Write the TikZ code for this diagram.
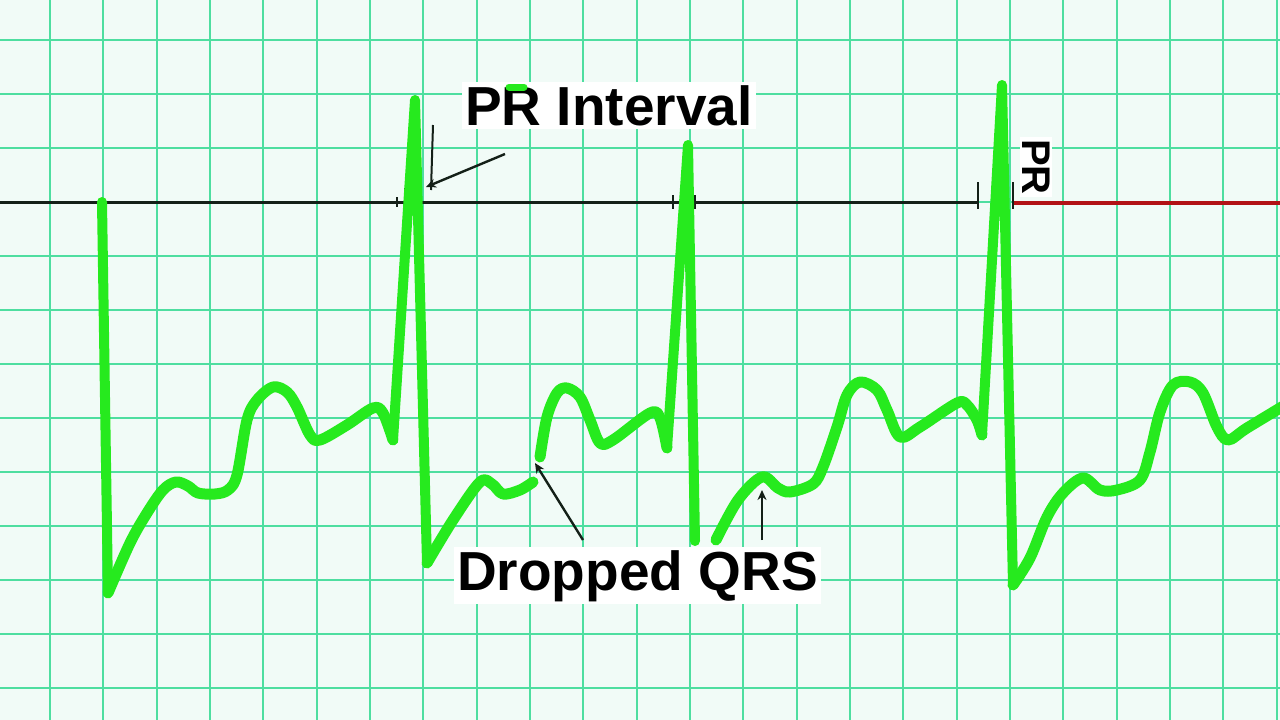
\documentclass[tikz,border=0pt]{standalone}
\usepackage{fontspec}
\setmainfont{Liberation Sans}
\usetikzlibrary{arrows.meta}
\definecolor{bgc}{RGB}{241,251,247}
\definecolor{gridc}{RGB}{78,222,160}
\definecolor{ecg}{RGB}{38,234,30}
\definecolor{inkc}{RGB}{20,32,24}
\definecolor{redc}{RGB}{178,18,22}
\tikzset{
  gridline/.style={draw=gridc, line width=1.9pt},
  trace/.style={draw=ecg, line width=11pt, line cap=round, line join=round},
  spike/.style={draw=ecg, line width=10pt, line cap=round, line join=round},
  baseline/.style={draw=inkc, line width=3pt},
  tickmark/.style={draw=inkc, line width=2.8pt},
  pointer/.style={draw=inkc, line width=2.4pt, -{Stealth[length=10pt,width=9pt]}},
  lbl/.style={font=\bfseries\fontsize{55}{60}\selectfont, text=black, fill=white, inner sep=3pt},
  smalllbl/.style={font=\bfseries\fontsize{40}{44}\selectfont, text=black, fill=white, inner sep=2pt}
}
\begin{document}
\begin{tikzpicture}[x=1pt,y=-1pt]
\useasboundingbox (0,0) rectangle (1280,720);
\fill[bgc] (0,0) rectangle (1280,720);
% grid
\foreach \k in {-1,...,23} \draw[gridline] ({50+53.333*\k},0) -- ({50+53.333*\k},720);
\foreach \k in {0,...,12} \draw[gridline] (0,{40+54*\k}) -- (1280,{40+54*\k});
% baseline
\coordinate (bl0) at (0,202);
\coordinate (bl1) at (978,202);
\coordinate (rl0) at (1013,203);
\coordinate (rl1) at (1280,203);
\draw[baseline] (bl0) -- (bl1);
\draw[redc, line width=4.5pt] (rl0) -- (rl1);
\coordinate (t1a) at (397,197); \coordinate (t1b) at (397,207);
\coordinate (t2a) at (405,188); \coordinate (t2b) at (405,204);
\coordinate (t3a) at (673,195); \coordinate (t3b) at (673,209);
\coordinate (t4a) at (695,195); \coordinate (t4b) at (695,209);
\coordinate (t5a) at (978,182); \coordinate (t5b) at (978,209);
\coordinate (t6a) at (1013,182); \coordinate (t6b) at (1013,209);
\foreach \t in {1,...,6} \draw[tickmark] (t\t a) -- (t\t b);
% ECG trace
\draw[spike] (102,202) -- (108,593);
\draw[trace] plot[smooth, tension=0.55] coordinates {(108,593) (130,543) (147,513) (163,490) (176,482) (188,486) (198,493) (215,494) (228,490) (237,475) (247,420) (257,400) (273,387) (287,392) (297,407) (310,435) (320,440) (347,425) (373,408) (383,413) (393,440)};
\draw[spike] (393,440) -- (415,100) -- (427,563);
\draw[trace] plot[smooth, tension=0.55] coordinates {(427,563) (453,520) (480,482) (492,484) (503,494) (520,490) (533,482)};
\draw[trace] plot[smooth, tension=0.55] coordinates {(540,457) (547,417) (557,393) (567,388) (580,397) (590,420) (600,443) (613,440) (650,413) (660,418) (667,448)};
\draw[spike] (667,448) -- (688,145) -- (695,541);
\draw[trace] plot[smooth, tension=0.55] coordinates {(716,540) (738,500) (762,477) (778,488) (790,492) (813,484) (823,467) (837,427) (847,395) (860,382) (877,390) (887,410) (900,437) (920,427) (957,403) (967,405) (977,420) (982,435)};
\draw[spike] (982,435) -- (1002,85) -- (1013,585);
\draw[trace] plot[smooth, tension=0.55] coordinates {(1013,585) (1030,558) (1047,517) (1063,493) (1083,478) (1100,490) (1117,490) (1140,480) (1150,452) (1160,412) (1173,385) (1190,382) (1203,393) (1217,427) (1228,440) (1247,428) (1290,402)};
% labels
\node[lbl, anchor=base west] (pr) at (462,125) {PR Interval};
\draw[ecg, line width=7pt, line cap=round] (509,87) -- (524,87);
\node[lbl, anchor=base west] (dq) at (454,590) {Dropped QRS};
\node[smalllbl, rotate=-90, anchor=base west] (pr2) at (1022,137) {PR};
% pointers
\coordinate (a1s) at (505,154);
\coordinate (a1e) at (426,187);
\draw[pointer] (a1s) -- (a1e);
\coordinate (v1s) at (433,125);
\coordinate (v1e) at (431,190);
\draw[inkc, line width=2pt] (v1s) -- (v1e);
\coordinate (a2s) at (583,540);
\coordinate (a2e) at (535,463);
\draw[pointer] (a2s) -- (a2e);
\coordinate (a3s) at (762,540);
\coordinate (a3e) at (762,490);
\draw[pointer] (a3s) -- (a3e);
\end{tikzpicture}
\end{document}
